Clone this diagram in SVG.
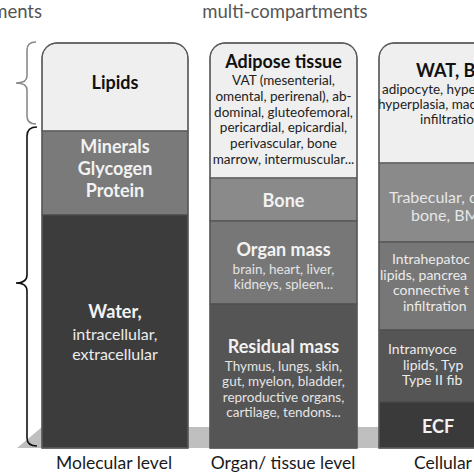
<svg xmlns="http://www.w3.org/2000/svg" width="474" height="474" viewBox="0 0 474 474">
<style>
text{font-family:Lato,"Open Sans","Liberation Sans",sans-serif;text-anchor:middle}
.t{font-size:18.5px;fill:#555}
.lab{font-size:17.5px;fill:#1a1a1a}
.h{font-size:18px;font-weight:bold}
.hk{fill:#111}
.hw{fill:#f2f2f2}
.s{font-size:13.5px}
.sk{fill:#222}
.sw{fill:#e4e4e4}
.st{text-anchor:start}
.sec{stroke:#4d4d4d;stroke-width:1}
.out{fill:none;stroke:#5a5a5a;stroke-width:1.3}
.light{fill:#efefef}
.c3{font-size:14px;fill:#ececec}
</style>
<rect width="474" height="474" fill="#fff"/>
<text class="t" x="42" y="18" style="text-anchor:end">ments</text>
<text class="t" x="285" y="18">multi-compartments</text>
<polygon points="17,448 42,427 474,427 474,448" fill="#bfbfbf"/>
<g id="braces" fill="none" stroke-width="1.6">
<path d="M36,42 Q27,42 27,50 V76 Q27,83 16,83 Q27,83 27,90 V116 Q27,124 36,124" stroke="#8a8a8a"/>
<path d="M37,127 Q27,127 27,136 V275 Q27,283 16,283 Q27,283 27,291 V438 Q27,446 37,446" stroke="#111"/>
</g>
<g id="col-molecular">
<g id="lipids"><path class="light sec" d="M42,131 V58 A15,15 0 0 1 57,43 H173 A15,15 0 0 1 188,58 V131 Z"/><text class="h hk" x="115" y="89">Lipids</text></g>
<g id="minerals"><rect class="sec" x="42" y="131" width="146" height="84" fill="#7a7a7a"/><text class="h hw" x="115" y="153">Minerals</text><text class="h hw" x="115" y="175">Glycogen</text><text class="h hw" x="115" y="197">Protein</text></g>
<g id="water"><rect class="sec" x="42" y="215" width="146" height="233" fill="#3c3c3c"/><text class="h hw" x="115" y="318">Water,</text><text x="115" y="340" font-size="16" fill="#ececec">intracellular,</text><text x="115" y="360" font-size="16" fill="#ececec">extracellular</text></g>
<path class="out" d="M42,448 V58 A15,15 0 0 1 57,43 H173 A15,15 0 0 1 188,58 V448 Z"/>
<text class="lab" x="114" y="469">Molecular level</text>
</g>
<g id="col-organ">
<g id="adipose"><path class="light sec" d="M210,178 V58 A15,15 0 0 1 225,43 H342 A15,15 0 0 1 357,58 V178 Z"/><text class="h hk" x="283.5" y="68">Adipose tissue</text>
<text class="s sk" x="283.5" y="85">VAT (mesenterial,</text><text class="s sk" x="283.5" y="101">omental, perirenal), ab-</text><text class="s sk" x="283.5" y="116.5">dominal, gluteofemoral,</text><text class="s sk" x="283.5" y="132">pericardial, epicardial,</text><text class="s sk" x="283.5" y="147.5">perivascular, bone</text><text class="s sk" x="283.5" y="164">marrow, intermuscular...</text></g>
<g id="bone"><rect class="sec" x="210" y="178" width="147" height="43" fill="#8a8a8a"/><text class="h hw" x="283.5" y="207">Bone</text></g>
<g id="organmass"><rect class="sec" x="210" y="221" width="147" height="83" fill="#777"/><text class="h hw" x="283.5" y="256">Organ mass</text><text class="s sw" x="283.5" y="274">brain, heart, liver,</text><text class="s sw" x="283.5" y="289">kidneys, spleen...</text></g>
<g id="residual"><rect class="sec" x="210" y="304" width="147" height="144" fill="#555"/><text class="h hw" x="283.5" y="353">Residual mass</text><text class="s sw" x="283.5" y="370.5">Thymus, lungs, skin,</text><text class="s sw" x="283.5" y="386">gut, myelon, bladder,</text><text class="s sw" x="283.5" y="401.5">reproductive organs,</text><text class="s sw" x="283.5" y="417">cartilage, tendons...</text></g>
<path class="out" d="M210,448 V58 A15,15 0 0 1 225,43 H342 A15,15 0 0 1 357,58 V448 Z"/>
<text class="lab" x="283" y="469">Organ/ tissue level</text>
</g>
<g id="col-cellular">
<g id="wat"><path class="light sec" d="M379,163 V58 A15,15 0 0 1 394,43 H480 V163 Z"/><text class="h hk st" x="416" y="77">WAT, BA</text>
<text class="s sk st" x="382" y="94">adipocyte, hype</text><text class="s sk st" x="378" y="109">hyperplasia, mac</text><text class="s sk st" x="420" y="124">infiltration</text></g>
<g id="trabecular"><rect class="sec" x="379" y="163" width="100" height="79" fill="#8a8a8a"/><text class="st" x="389" y="203" font-size="16" fill="#e6e6e6">Trabecular, c</text><text class="st" x="411" y="221" font-size="16" fill="#e6e6e6">bone, BM</text></g>
<g id="intrahepato"><rect class="sec" x="379" y="242" width="100" height="88" fill="#777"/><text class="c3 st" x="392" y="264">Intrahepatoc</text><text class="c3 st" x="380" y="279.5">lipids, pancrea</text><text class="c3 st" x="393" y="295">connective t</text><text class="c3 st" x="403" y="310.5">infiltration</text></g>
<g id="intramyo"><rect class="sec" x="379" y="330" width="100" height="72" fill="#555"/><text class="c3 st" x="388" y="354">Intramyoce</text><text class="c3 st" x="403" y="369.5">lipids, Typ</text><text class="c3 st" x="402" y="385">Type II fib</text></g>
<g id="ecf"><rect class="sec" x="379" y="402" width="100" height="46" fill="#3a3a3a"/><text class="h hw" x="438" y="433">ECF</text></g>
<path class="out" d="M480,448 H379 V58 A15,15 0 0 1 394,43 H480"/>
<text class="lab st" x="414" y="469">Cellular le</text>
</g>
</svg>
